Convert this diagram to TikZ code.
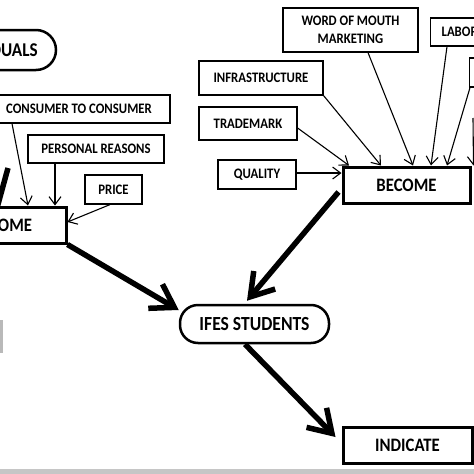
\documentclass[tikz,border=0pt]{standalone}
\usepackage{fontspec}
\setmainfont{Carlito}[FakeStretch=0.88]
\usepackage{tikz}
\usetikzlibrary{shapes}
\usetikzlibrary{arrows.meta}
\tikzset{
  factor node/.style={rectangle,draw,line width=1.2pt,inner sep=2pt,font=\fontsize{14.5}{18}\selectfont\bfseries},
  stage node/.style={rectangle,draw,line width=3pt,inner sep=2pt,minimum width=127pt,minimum height=36pt,font=\fontsize{19}{22}\selectfont\bfseries},
  group node/.style={rectangle,rounded corners=18pt,draw,line width=2.5pt,font=\fontsize{20}{23}\selectfont\bfseries},
  link/.style={line width=1.1pt,-{Straight Barb[length=8pt,width=12pt]}},
  flow/.style={line width=5.5pt,-{Straight Barb[length=22pt,width=28pt]}}
}
\begin{document}
\begin{tikzpicture}[x=1pt,y=-1pt]
  \useasboundingbox (0,0) rectangle (474,474);
  \clip (0,0) rectangle (474,474);

  % left side
  \node[group node,minimum width=130pt,minimum height=40pt,rounded corners=20pt,font=\fontsize{19.5}{22}\selectfont\bfseries] (ind) at (-9,50) {INDIVIDUALS};
  \node[factor node,minimum width=182pt,minimum height=28pt] (c2c) at (79,109) {CONSUMER TO CONSUMER};
  \node[factor node,minimum width=136pt,minimum height=28pt] (pers) at (96,149) {PERSONAL REASONS};
  \node[factor node,minimum width=57pt,minimum height=29pt] (price) at (113.5,189.5) {PRICE};
  \node[stage node,minimum width=128pt] (bec1) at (2,225) {BECOME};

  % right side
  \node[factor node,minimum width=135pt,minimum height=44pt,align=center] (wom) at (350.5,30) {WORD OF MOUTH\\MARKETING};
  \node[factor node,anchor=west,minimum height=28pt,inner xsep=11pt,text width=80pt,align=left] (labor) at (430,32) {LABOR};
  \node[factor node,anchor=west,minimum width=60pt,minimum height=29pt] (other) at (469,72.5) {};
  \node[factor node,minimum width=124pt,minimum height=34pt] (infra) at (261,78) {INFRASTRUCTURE};
  \node[factor node,minimum width=98pt,minimum height=33pt] (trade) at (248,123.5) {TRADEMARK};
  \node[factor node,minimum width=78pt,minimum height=29pt] (qual) at (257,174.5) {QUALITY};
  \node[stage node] (bec2) at (406.5,185) {BECOME};

  % centre and bottom
  \node[group node,minimum width=149pt,minimum height=38pt] (ifes) at (254.5,324) {IFES STUDENTS};
  \node[stage node,minimum width=129pt] (indic) at (407.5,445) {INDICATE};

  \coordinate (armend) at (8,168);
  \coordinate (rightin) at (473,118);
  \coordinate (indout) at (490,435);

  \path[link]
    ([xshift=-67pt]c2c.south) edge ([xshift=26pt]bec1.north)
    ([xshift=-41pt]pers.south) edge ([xshift=53pt]bec1.north)
    ([xshift=-3.5pt]price.south) edge ([yshift=3pt]bec1.east)
    ([yshift=1.5pt]qual.east) edge ([yshift=12pt]bec2.west)
    ([yshift=-4.5pt]trade.east) edge ([xshift=-57.5pt]bec2.north)
    (infra.south east) edge ([xshift=-25.5pt]bec2.north)
    ([xshift=17.5pt]wom.south) edge ([xshift=6.5pt]bec2.north)
    ([xshift=17pt]labor.south west) edge ([xshift=24.5pt]bec2.north)
    ([xshift=1pt]other.south west) edge ([xshift=40.5pt]bec2.north)
    (rightin) edge ([xshift=2pt]bec2.north east);

  \draw[line width=1.1pt] ([yshift=10pt]indic.east) -- (indout);

  \path[flow]
    (bec1.south east) edge ([yshift=14pt]ifes.west)
    ([xshift=-3pt,yshift=-7pt]bec2.west) edge ([xshift=-7.5pt,yshift=3pt]ifes.north)
    ([xshift=-9.5pt]ifes.south) edge ([xshift=-6pt,yshift=8pt]indic.west);
  \draw[line width=5.5pt] (armend) -- ++(-11,40);

  % cut edges
  \fill[gray!55] (-2,320) rectangle (3,353);
  \fill[gray!45] (0,469) rectangle (474,474);
\end{tikzpicture}
\end{document}
